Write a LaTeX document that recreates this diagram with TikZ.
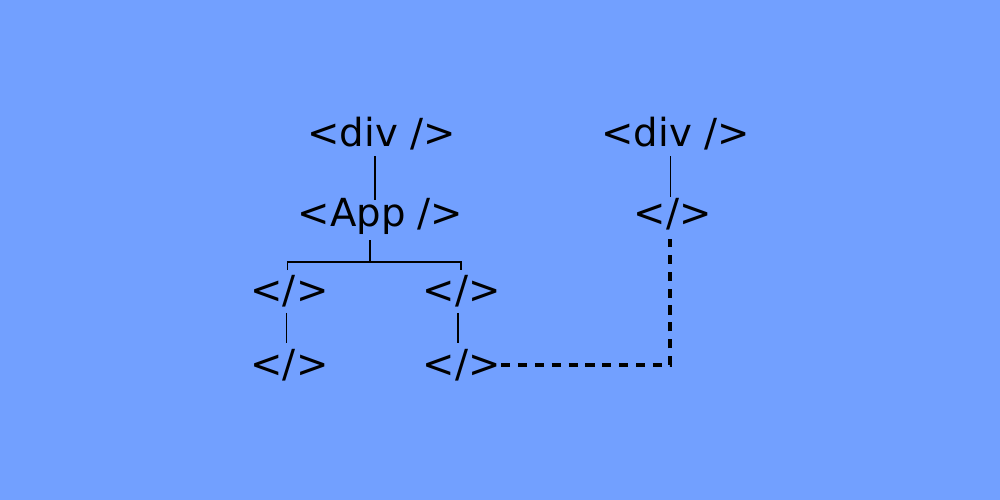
\documentclass[tikz,border=0pt]{standalone}
\usepackage{fontspec}
\setmainfont{DejaVu Sans}
\usetikzlibrary{positioning}
\definecolor{bgblue}{HTML}{72A0FF}
\begin{document}
\begin{tikzpicture}[
    tag/.style={font=\fontsize{11}{13}\selectfont, inner xsep=0pt, inner ysep=1.5pt},
    link/.style={line width=0.3pt},
    jump/.style={line width=0.9pt, dash pattern=on 2.6pt off 2.2pt}]
    % Background
    \fill[bgblue] (0,0) rectangle (10,5);

    % Tree mounted by the app
    \node[tag] (root) at (3.815,3.66) {<div />};
    \node[tag] (app) at (3.805,2.84) {<App />};
    \node[tag] (left) at (2.895,2.09) {</>};
    \node[tag] (right) at (4.615,2.09) {</>};
    \node[tag] (leftleaf) at (2.895,1.35) {</>};
    \node[tag] (rightleaf) at (4.615,1.35) {</>};

    % Separate DOM node (portal target)
    \node[tag] (host) at (6.755,3.66) {<div />};
    \node[tag] (portal) at (6.725,2.86) {</>};

    % Links
    \coordinate (fork) at (3.70,2.38);
    \draw[link] ([xshift=-1.85pt]root.south) -- ([xshift=-1.85pt,yshift=-0.08cm]root.south |- app.north);
    \draw[link] (app.south -| fork) -- (fork);
    \draw[link] (left.north) ++(-0.02,-0.01) |- (fork) -| ([xshift=-0.005cm,yshift=-0.01cm]right.north);
    \draw[link] ([xshift=-0.03cm]left.south) -- ([xshift=-0.03cm]leftleaf.north);
    \draw[link] ([xshift=-0.035cm]right.south) -- ([xshift=-0.035cm]rightleaf.north);
    \draw[link] ([xshift=-1.5pt]host.south) -- ([xshift=-1.5pt,yshift=-0.05cm]host.south |- portal.north);

    % Portal jump
    \draw[jump] (rightleaf.east) -| ([xshift=-0.025cm,yshift=-0.03cm]portal.south);
\end{tikzpicture}
\end{document}
